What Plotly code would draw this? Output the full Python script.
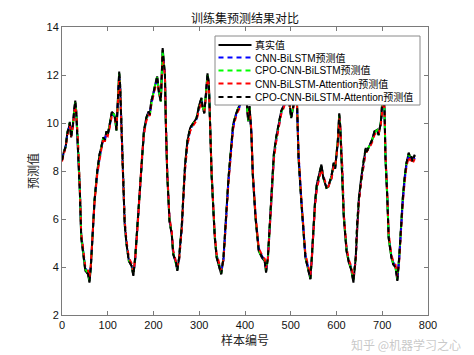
import plotly.graph_objects as go

# ---------------- data ----------------
sample_idx = [
    0, 4, 8, 12, 15, 17, 20, 24, 27, 29,
    31, 35, 39, 42, 46, 51, 57, 60, 63, 68,
    71, 77, 82, 86, 90, 94, 97, 100, 104, 109,
    114, 116, 119, 122, 125, 127, 130, 133, 137, 141,
    146, 152, 156, 160, 165, 170, 175, 179, 184, 189,
    192, 195, 198, 203, 205, 208, 212, 216, 220, 223,
    225, 227, 230, 235, 240, 243, 249, 252, 256, 262,
    265, 269, 274, 280, 287, 294, 300, 305, 307, 311,
    315, 318, 321, 323, 327, 331, 334, 338, 343, 348,
    353, 358, 364, 369, 374, 380, 385, 393, 398, 402,
    407, 410, 414, 417, 423, 430, 437, 443, 446, 450,
    455, 463, 468, 474, 479, 484, 490, 495, 501, 506,
    510, 513, 517, 523, 528, 532, 538, 543, 546, 550,
    553, 557, 562, 564, 567, 571, 578, 582, 589, 594,
    597, 603, 606, 608, 613, 616, 622, 627, 632, 637,
    642, 645, 649, 654, 660, 664, 666, 673, 678, 683,
    689, 692, 697, 700, 703, 705, 707, 711, 714, 720,
    724, 729, 733, 737, 742, 745, 749, 753, 758, 761,
    764, 766, 771,
]

true_vals = [
    8.45, 8.8, 9.0, 9.65, 9.8, 10.05, 9.4, 9.95, 10.6, 10.93,
    10.5, 9.1, 7.16, 5.22, 4.67, 3.84, 3.7, 3.35, 3.98, 5.78,
    6.75, 7.99, 8.68, 9.0, 9.38, 9.3, 9.65, 9.5, 9.93, 10.46,
    10.35, 10.2, 9.68, 10.9, 12.14, 11.59, 9.93, 7.85, 5.78, 4.95,
    4.25, 4.05, 3.63, 4.39, 5.78, 7.44, 8.82, 9.65, 10.2, 10.48,
    10.35, 10.9, 11.1, 11.6, 11.8, 11.94, 11.25, 10.9, 13.12, 12.56,
    12.0, 9.93, 7.85, 5.91, 5.36, 4.53, 4.18, 3.84, 4.39, 5.78,
    7.02, 8.27, 9.24, 9.79, 10.0, 10.2, 10.76, 11.04, 10.7, 10.42,
    11.31, 12.07, 11.66, 9.93, 7.85, 6.33, 5.22, 4.39, 4.05, 3.7,
    4.39, 6.05, 7.72, 8.82, 9.93, 10.35, 10.62, 10.9, 11.2, 11.3,
    10.07, 10.7, 9.51, 7.85, 6.05, 4.67, 4.39, 4.25, 3.77, 4.39,
    6.05, 8.68, 9.38, 9.93, 10.48, 10.69, 11.1, 11.2, 10.2, 10.76,
    11.6, 11.3, 8.55, 6.75, 5.22, 4.39, 3.91, 3.49, 4.39, 5.78,
    6.68, 7.44, 7.85, 7.99, 8.27, 7.72, 7.3, 7.33, 7.79, 8.34,
    8.1, 9.31, 10.4, 9.9, 7.85, 6.05, 4.67, 4.18, 3.91, 3.35,
    4.39, 5.78, 6.88, 7.72, 8.55, 8.96, 8.8, 9.1, 9.31, 9.65,
    9.72, 9.5, 10.07, 10.9, 11.3, 10.5, 8.55, 6.88, 5.22, 4.39,
    4.12, 3.98, 3.42, 4.39, 6.05, 6.88, 7.72, 8.34, 8.76, 8.55,
    8.6, 8.4, 8.68,
]

cnn_bilstm = [
    8.5, 8.75, 9.05, 9.55, 9.75, 9.95, 9.5, 9.9, 10.45, 10.8,
    10.55, 9.2, 7.3, 5.35, 4.75, 3.95, 3.8, 3.5, 4.05, 5.7,
    6.7, 7.9, 8.6, 8.95, 9.3, 9.35, 9.55, 9.55, 9.85, 10.35,
    10.3, 10.25, 9.75, 10.8, 11.95, 11.6, 10.05, 7.95, 5.9, 5.05,
    4.35, 4.1, 3.75, 4.3, 5.65, 7.3, 8.7, 9.55, 10.1, 10.4,
    10.4, 10.8, 11.05, 11.5, 11.7, 11.85, 11.35, 10.95, 12.9, 12.5,
    12.05, 10.1, 7.95, 6.0, 5.4, 4.65, 4.25, 3.95, 4.3, 5.6,
    6.85, 8.1, 9.1, 9.7, 9.95, 10.15, 10.65, 10.95, 10.75, 10.5,
    11.2, 11.9, 11.65, 10.05, 7.95, 6.4, 5.3, 4.5, 4.1, 3.8,
    4.3, 5.9, 7.6, 8.7, 9.8, 10.3, 10.55, 10.85, 11.1, 11.2,
    10.2, 10.6, 9.65, 7.95, 6.15, 4.8, 4.45, 4.3, 3.9, 4.3,
    5.9, 8.5, 9.25, 9.85, 10.4, 10.65, 11.0, 11.1, 10.3, 10.7,
    11.45, 11.3, 8.7, 6.85, 5.3, 4.5, 4.0, 3.6, 4.3, 5.65,
    6.55, 7.3, 7.75, 7.9, 8.15, 7.8, 7.35, 7.35, 7.7, 8.25,
    8.15, 9.2, 10.25, 9.95, 8.0, 6.15, 4.75, 4.25, 4.0, 3.5,
    4.3, 5.65, 6.75, 7.6, 8.45, 8.85, 8.85, 9.05, 9.25, 9.55,
    9.7, 9.55, 10.0, 10.75, 11.15, 10.6, 8.7, 7.0, 5.35, 4.45,
    4.2, 4.05, 3.55, 4.3, 5.9, 6.75, 7.6, 8.25, 8.65, 8.5,
    8.5, 8.35, 8.55,
]

cpo_cnn_bilstm = [
    8.45, 8.8, 9.0, 9.6, 9.8, 10.0, 9.45, 9.95, 10.55, 10.85,
    10.5, 9.15, 7.2, 5.3, 4.7, 3.9, 3.75, 3.45, 4.0, 5.75,
    6.75, 7.95, 8.65, 9.0, 9.35, 9.3, 9.6, 9.5, 9.9, 10.4,
    10.35, 10.2, 9.7, 10.85, 12.05, 11.6, 9.95, 7.9, 5.85, 5.0,
    4.3, 4.1, 3.7, 4.35, 5.75, 7.4, 8.8, 9.6, 10.15, 10.45,
    10.35, 10.85, 11.1, 11.55, 11.75, 11.9, 11.3, 10.9, 13.0, 12.55,
    12.0, 10.0, 7.9, 5.95, 5.4, 4.6, 4.2, 3.9, 4.35, 5.75,
    6.95, 8.2, 9.2, 9.75, 10.0, 10.2, 10.7, 11.0, 10.7, 10.45,
    11.25, 12.0, 11.65, 10.0, 7.9, 6.35, 5.25, 4.45, 4.1, 3.75,
    4.35, 6.0, 7.7, 8.8, 9.9, 10.35, 10.6, 10.9, 11.15, 11.25,
    10.1, 10.65, 9.55, 7.9, 6.1, 4.7, 4.4, 4.3, 3.85, 4.35,
    6.0, 8.6, 9.35, 9.9, 10.45, 10.65, 11.05, 11.15, 10.25, 10.75,
    11.5, 11.3, 8.6, 6.8, 5.25, 4.45, 3.95, 3.55, 4.35, 5.75,
    6.65, 7.4, 7.8, 7.95, 8.2, 7.75, 7.3, 7.35, 7.75, 8.3,
    8.1, 9.25, 10.3, 9.9, 7.9, 6.1, 4.7, 4.2, 3.95, 3.45,
    4.35, 5.75, 6.85, 7.7, 8.5, 8.9, 8.8, 9.1, 9.3, 9.6,
    9.7, 9.5, 10.05, 10.8, 11.2, 10.5, 8.6, 6.9, 5.25, 4.4,
    4.15, 4.0, 3.5, 4.35, 6.0, 6.85, 7.7, 8.3, 8.7, 8.55,
    8.55, 8.4, 8.6,
]

cnn_bilstm_att = [
    8.4, 8.7, 9.0, 9.5, 9.7, 9.9, 9.45, 9.85, 10.4, 10.7,
    10.45, 9.25, 7.3, 5.4, 4.8, 4.0, 3.85, 3.55, 4.1, 5.65,
    6.65, 7.85, 8.55, 8.9, 9.25, 9.25, 9.5, 9.45, 9.8, 10.3,
    10.25, 10.15, 9.75, 10.7, 11.85, 11.5, 10.1, 8.0, 5.95, 5.1,
    4.4, 4.15, 3.8, 4.3, 5.6, 7.25, 8.65, 9.5, 10.05, 10.35,
    10.3, 10.75, 11.0, 11.45, 11.65, 11.8, 11.35, 10.95, 12.8, 12.4,
    12.0, 10.15, 8.0, 6.05, 5.45, 4.7, 4.3, 4.0, 4.3, 5.6,
    6.8, 8.05, 9.05, 9.65, 9.9, 10.1, 10.6, 10.9, 10.7, 10.45,
    11.15, 11.85, 11.6, 10.1, 8.0, 6.45, 5.35, 4.55, 4.15, 3.85,
    4.3, 5.85, 7.55, 8.65, 9.75, 10.25, 10.5, 10.8, 11.05, 11.15,
    10.25, 10.55, 9.7, 8.0, 6.2, 4.8, 4.5, 4.35, 3.95, 4.3,
    5.85, 8.45, 9.2, 9.8, 10.35, 10.6, 10.95, 11.05, 10.35, 10.65,
    11.4, 11.25, 8.75, 6.9, 5.35, 4.55, 4.05, 3.65, 4.3, 5.6,
    6.5, 7.25, 7.7, 7.85, 8.1, 7.8, 7.4, 7.35, 7.65, 8.2,
    8.15, 9.15, 10.2, 9.95, 8.05, 6.2, 4.8, 4.3, 4.05, 3.55,
    4.25, 5.6, 6.7, 7.55, 8.4, 8.8, 8.8, 9.0, 9.2, 9.5,
    9.65, 9.55, 9.95, 10.7, 11.1, 10.6, 8.75, 7.05, 5.4, 4.5,
    4.25, 4.1, 3.6, 4.25, 5.85, 6.7, 7.55, 8.2, 8.6, 8.45,
    8.45, 8.3, 8.5,
]

cpo_cnn_bilstm_att = [
    8.45, 8.8, 9.05, 9.6, 9.8, 10.0, 9.4, 9.95, 10.6, 10.9,
    10.5, 9.1, 7.15, 5.25, 4.7, 3.85, 3.7, 3.4, 4.0, 5.8,
    6.75, 8.0, 8.7, 9.0, 9.4, 9.3, 9.65, 9.5, 9.95, 10.45,
    10.35, 10.2, 9.7, 10.9, 12.1, 11.6, 9.95, 7.85, 5.8, 4.95,
    4.25, 4.05, 3.65, 4.4, 5.8, 7.45, 8.8, 9.65, 10.2, 10.5,
    10.35, 10.9, 11.1, 11.6, 11.8, 11.95, 11.25, 10.9, 13.05, 12.55,
    12.0, 9.95, 7.85, 5.9, 5.35, 4.55, 4.2, 3.85, 4.4, 5.8,
    7.0, 8.25, 9.25, 9.8, 10.0, 10.2, 10.75, 11.05, 10.7, 10.4,
    11.3, 12.05, 11.65, 9.95, 7.85, 6.3, 5.2, 4.4, 4.05, 3.7,
    4.4, 6.05, 7.75, 8.85, 9.95, 10.35, 10.6, 10.9, 11.2, 11.3,
    10.1, 10.7, 9.5, 7.85, 6.05, 4.65, 4.4, 4.25, 3.8, 4.4,
    6.05, 8.7, 9.4, 9.95, 10.5, 10.7, 11.1, 11.2, 10.2, 10.75,
    11.55, 11.3, 8.55, 6.75, 5.2, 4.4, 3.9, 3.5, 4.4, 5.8,
    6.7, 7.45, 7.85, 8.0, 8.25, 7.75, 7.3, 7.35, 7.8, 8.35,
    8.1, 9.3, 10.35, 9.9, 7.85, 6.05, 4.65, 4.2, 3.9, 3.4,
    4.4, 5.8, 6.9, 7.75, 8.55, 8.95, 8.8, 9.1, 9.3, 9.65,
    9.7, 9.5, 10.05, 10.85, 11.25, 10.5, 8.55, 6.9, 5.2, 4.4,
    4.1, 4.0, 3.45, 4.4, 6.05, 6.9, 7.75, 8.35, 8.75, 8.55,
    8.6, 8.4, 8.65,
]

series_names = ["真实值", "CNN-BiLSTM预测值", "CPO-CNN-BiLSTM预测值",
                "CNN-BiLSTM-Attention预测值", "CPO-CNN-BiLSTM-Attention预测值"]
series_colors = ["#000000", "#0000ff", "#00ff00", "#ff0000", "#000000"]
series_dash = ["solid", "5px,4px", "5px,4px", "5px,4px", "5px,4px"]

x_ticks = [0, 100, 200, 300, 400, 500, 600, 700, 800]
y_ticks = [2, 4, 6, 8, 10, 12, 14]

all_series = [true_vals, cnn_bilstm, cpo_cnn_bilstm, cnn_bilstm_att, cpo_cnn_bilstm_att]
for s in all_series:
    assert len(s) == len(sample_idx)

FONT = "Liberation Sans, Arial, Noto Sans CJK SC, sans-serif"
CJK = "Noto Sans CJK SC, sans-serif"

# page body has an 8px default margin: figure is drawn offset by 8px
OFF = 8
W, H = 474 - OFF, 355 - OFF

fig = go.Figure()
for name, vals, col, dash in zip(series_names, all_series, series_colors, series_dash):
    fig.add_trace(go.Scatter(
        x=sample_idx, y=vals, mode="lines", name=name,
        line=dict(color=col, width=2, dash=dash), showlegend=False,
    ))

# plot area in window pixels (reference)
L, R, B, T = 62, 428, 315, 27
def px(x):
    return (x - L) / (R - L)
def py(y):
    return (B - y) / (B - T)

shapes = [dict(type="rect", xref="paper", yref="paper",
               x0=px(215), x1=px(420), y0=py(105), y1=py(36),
               fillcolor="white", line=dict(color="#8a8a8a", width=1), layer="above")]
annotations = []
row_y = [45, 57.5, 70.5, 83.5, 97]
for name, col, dash, ry in zip(series_names, series_colors, series_dash, row_y):
    shapes.append(dict(type="line", xref="paper", yref="paper",
                       x0=px(218.5), x1=px(251.5), y0=py(ry), y1=py(ry),
                       line=dict(color=col, width=2, dash=dash), layer="above"))
    annotations.append(dict(xref="paper", yref="paper", x=px(253), y=py(ry),
                            xanchor="left", yanchor="middle", showarrow=False,
                            text=name, font=dict(family=FONT, size=10, color="#000000")))

# watermark
annotations.append(dict(xref="paper", yref="paper", x=px(463), y=py(344),
                        xanchor="right", yanchor="middle", showarrow=False,
                        text="知乎 @机器学习之心",
                        font=dict(family=CJK, size=12, color="rgba(190,190,190,0.85)")))

axis_common = dict(
    showline=True, linecolor="#7a7a7a", linewidth=1, mirror="ticks",
    ticks="inside", ticklen=4, tickcolor="#7a7a7a", tickwidth=1,
    showgrid=False, zeroline=False, automargin=False,
    tickfont=dict(family=FONT, size=11, color="#111111"),
)

fig.update_layout(
    width=W, height=H,
    margin=dict(l=L - OFF, r=474 - R, t=T - OFF, b=355 - B, autoexpand=False),
    paper_bgcolor="white", plot_bgcolor="white",
    title=dict(text="训练集预测结果对比", x=((L + R) / 2 - OFF) / W, xanchor="center",
               y=1 - (18.5 - OFF) / H, yanchor="middle", automargin=False,
               font=dict(family=CJK, size=12, color="#111111")),
    xaxis=dict(range=[0, 800], tickvals=x_ticks, **axis_common,
               title=dict(text="样本编号", standoff=5,
                          font=dict(family=CJK, size=12, color="#222222"))),
    yaxis=dict(range=[2, 14], tickvals=y_ticks, **axis_common,
               title=dict(text="预测值", standoff=5,
                          font=dict(family=CJK, size=12, color="#222222"))),
    shapes=shapes, annotations=annotations,
    showlegend=False,
)

fig.write_html("out.html")
